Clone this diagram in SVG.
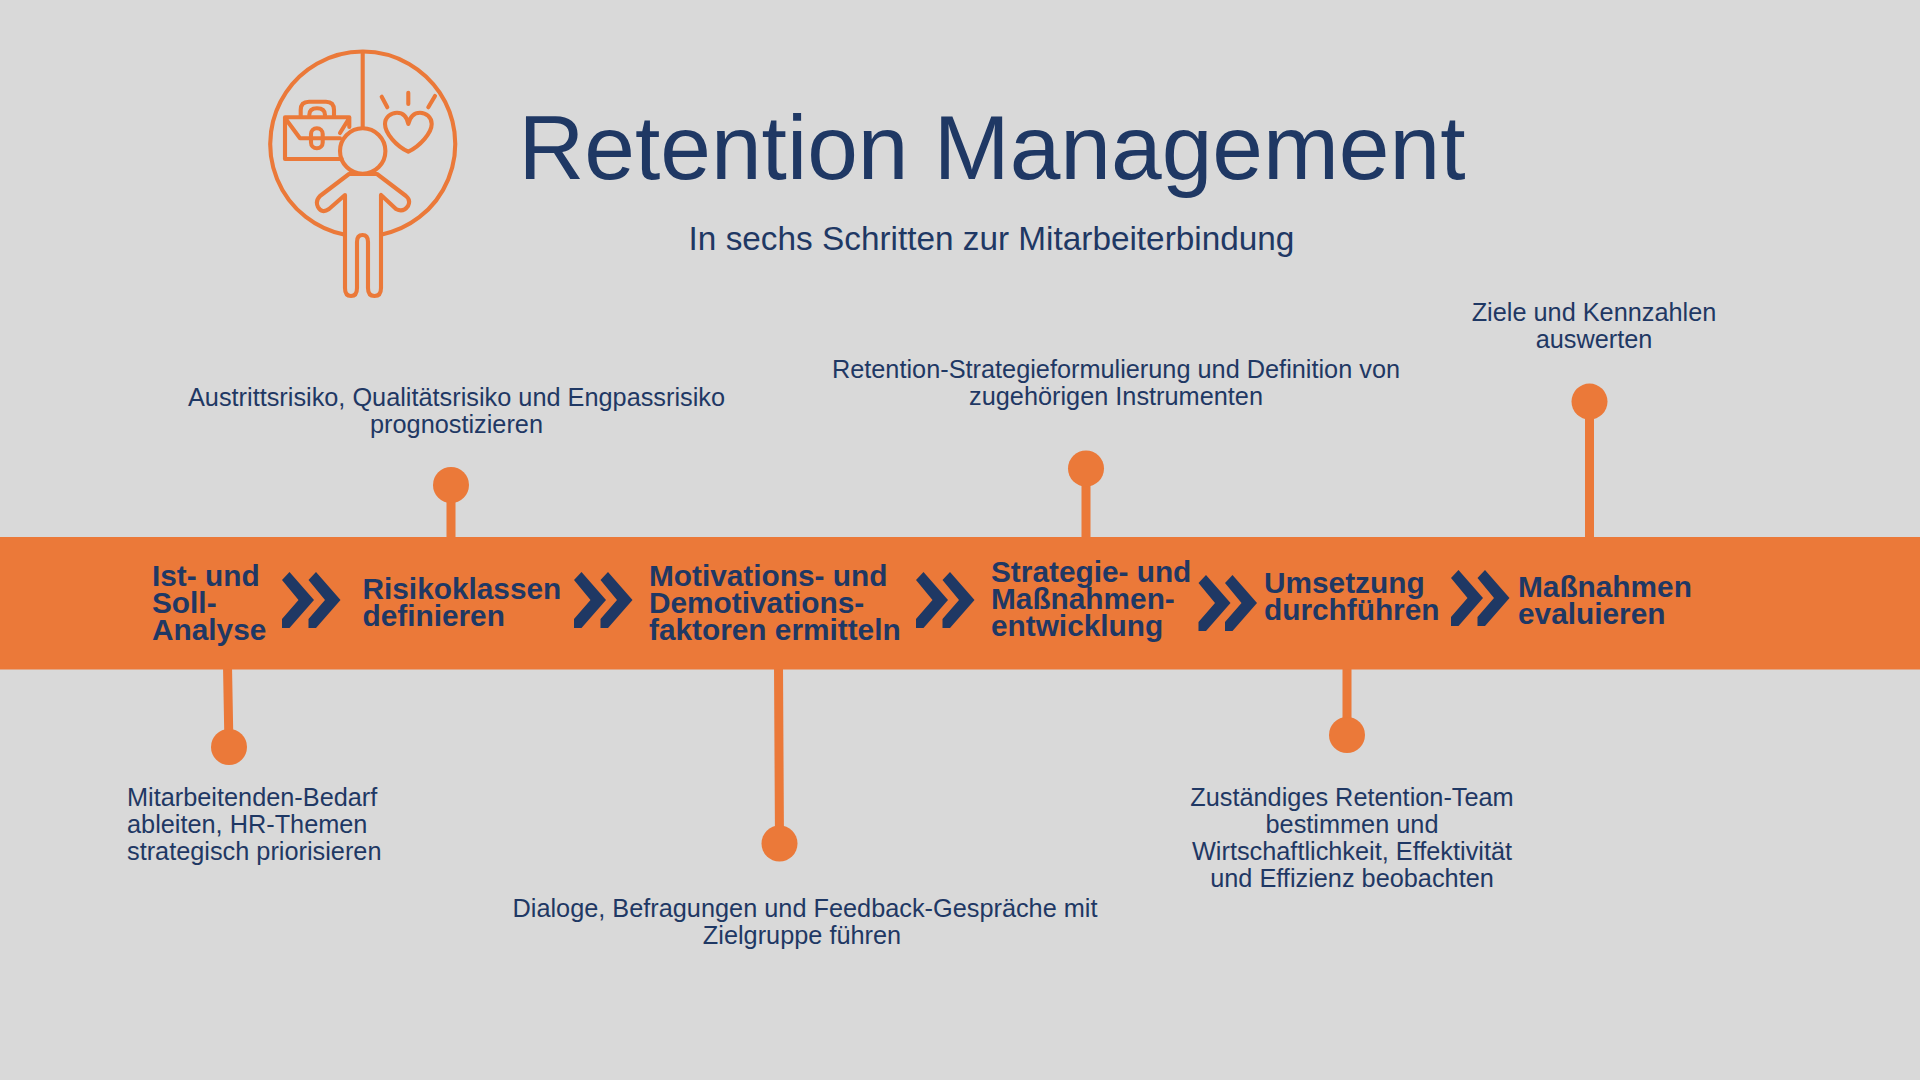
<svg xmlns="http://www.w3.org/2000/svg" width="1920" height="1080" viewBox="0 0 1920 1080">
<style>
text{font-family:"Liberation Sans",Arial,sans-serif;fill:#1f3864}
.h{font-weight:700;font-size:29.800px}
.d{font-size:25.300px}
.m{text-anchor:middle}
.o{fill:#eb7939}
.s{stroke:#eb7939;stroke-width:9;fill:none}
.i{stroke:#eb7939;stroke-width:4.100;fill:none;stroke-linecap:round;stroke-linejoin:round}
.c{fill:#1f3864}
</style>
<defs><g id="chev"><polygon points="0,8 7.500,0 32,28 7.500,56 0,56 0,47 16.500,28"/><polygon points="26.500,8 34,0 58.500,28 34,56 26.500,56 26.500,47 43,28"/></g></defs>
<rect width="1920" height="1080" fill="#d9d9d9"/>
<g id="icon" class="i">
<path d="M344 234.600A92.500 92.500 0 1 1 381 234.700"/>
<path d="M362.700 52V128"/>
<circle cx="362.700" cy="151" r="22.700"/>
<path d="M349 174H377L406 196Q411 200 408 206Q403 213 396 209L381 195V288Q381 296 374.500 296Q368 296 368 288V242Q368 235 362.500 235Q357 235 357 242V288Q357 296 351 296Q345 296 345 288V195L329 209Q322 214 318 207Q315 201 320 196Z"/>
<path d="M341.700 159H285V117.300H349.300V127M285 118L300 138.300H340M349.300 118L340 133"/>
<path d="M300.700 116V110Q300.700 101.700 309 101.700H326Q334 101.700 334 110V116M309.300 115Q309.300 108.300 317 108.300Q325 108.300 325 115"/>
<rect x="311" y="128.300" width="11.700" height="20" rx="5.800"/>
<path d="M408.300 151.700C396 146 385 133 385 124C385 117 391 112.700 397 112.700C403 112.700 407 117 408.300 124C410 117 414 112.700 420 112.700C426 112.700 431.700 117 431.700 124C431.700 133 420 146 408.300 151.700Z"/>
<path d="M381.700 96.700L387.300 107.300M408.300 92.700V104M435 96L428.300 107.300"/>
</g>
<g id="title"><text x="992" y="179" class="m" style="font-size:91.100px">Retention Management</text>
<text x="991.500" y="250" class="m" style="font-size:33.350px">In sechs Schritten zur Mitarbeiterbindung</text></g>
<g id="connectors">
<path class="s" d="M451 485V540M1086 468V540M1589.500 402V540M227.500 666L229 747M778.500 666L779.500 843M1347 666V735"/>
</g>
<rect id="band" y="537" width="1920" height="132.500" class="o"/>
<g id="arrows" class="c">
<use href="#chev" x="282" y="572"/>
<use href="#chev" x="574" y="572"/>
<use href="#chev" x="916" y="572"/>
<use href="#chev" x="1198.500" y="575"/>
<use href="#chev" x="1451" y="570"/>
</g>
<g id="step1"><circle class="o" cx="229" cy="747" r="18"/>
<text class="h"><tspan x="152" y="586">Ist- und</tspan><tspan x="152" y="613">Soll-</tspan><tspan x="152" y="640">Analyse</tspan></text>
<text class="d"><tspan x="127" y="806">Mitarbeitenden-Bedarf</tspan><tspan x="127" y="833">ableiten, HR-Themen</tspan><tspan x="127" y="860">strategisch priorisieren</tspan></text></g>
<g id="step2"><circle class="o" cx="451" cy="485" r="18"/>
<text class="h"><tspan x="362.500" y="599">Risikoklassen</tspan><tspan x="362.500" y="626">definieren</tspan></text>
<text class="d m"><tspan x="456.500" y="406">Austrittsrisiko, Qualitätsrisiko und Engpassrisiko</tspan><tspan x="456.500" y="433">prognostizieren</tspan></text></g>
<g id="step3"><circle class="o" cx="779.500" cy="843.500" r="18"/>
<text class="h"><tspan x="649" y="586">Motivations- und</tspan><tspan x="649" y="613">Demotivations-</tspan><tspan x="649" y="640">faktoren ermitteln</tspan></text>
<text class="d m"><tspan x="805" y="917">Dialoge, Befragungen und Feedback-Gespräche mit</tspan><tspan x="802" y="944">Zielgruppe führen</tspan></text></g>
<g id="step4"><circle class="o" cx="1086" cy="468.500" r="18"/>
<text class="h"><tspan x="991" y="582">Strategie- und</tspan><tspan x="991" y="609">Maßnahmen-</tspan><tspan x="991" y="636">entwicklung</tspan></text>
<text class="d m"><tspan x="1116" y="378">Retention-Strategieformulierung und Definition von</tspan><tspan x="1116" y="405">zugehörigen Instrumenten</tspan></text></g>
<g id="step5"><circle class="o" cx="1347" cy="735" r="18"/>
<text class="h"><tspan x="1264" y="593">Umsetzung</tspan><tspan x="1264" y="620">durchführen</tspan></text>
<text class="d m"><tspan x="1352" y="806">Zuständiges Retention-Team</tspan><tspan x="1352" y="833">bestimmen und</tspan><tspan x="1352" y="860">Wirtschaftlichkeit, Effektivität</tspan><tspan x="1352" y="887">und Effizienz beobachten</tspan></text></g>
<g id="step6"><circle class="o" cx="1589.500" cy="401.600" r="18"/>
<text class="h"><tspan x="1518" y="597">Maßnahmen</tspan><tspan x="1518" y="624">evaluieren</tspan></text>
<text class="d m"><tspan x="1594" y="321.300">Ziele und Kennzahlen</tspan><tspan x="1594" y="348.300">auswerten</tspan></text></g>
</svg>
